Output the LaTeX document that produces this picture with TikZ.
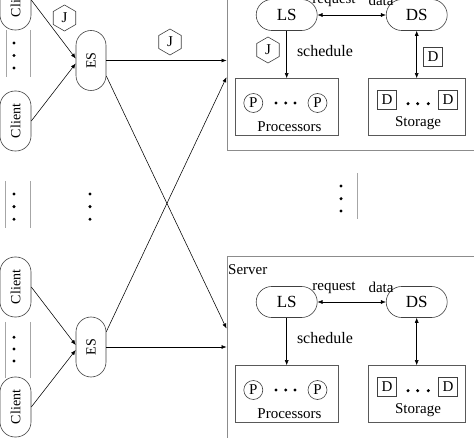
\documentclass[tikz,border=0pt]{standalone}
\usepackage{fontspec}
\setmainfont{Liberation Serif}
\usetikzlibrary{shapes.geometric,arrows.meta}

\tikzset{
  vpill/.style={draw=black!75, line width=0.6pt, rounded corners=15pt, minimum width=31pt, minimum height=60pt, inner sep=0pt, font=\fontsize{14}{16}\selectfont},
  hpill/.style={draw=black!75, line width=0.6pt, rounded corners=15.5pt, minimum width=61pt, minimum height=31pt, inner sep=0pt, font=\fontsize{17}{20}\selectfont},
  jtoken/.style={draw=black!75, line width=0.6pt, regular polygon, regular polygon sides=6, shape border rotate=90, minimum size=26pt, inner sep=0pt},
  dtoken/.style={draw=black!75, line width=0.6pt, minimum size=19pt, inner sep=0pt},
  ptoken/.style={draw=black!75, line width=0.6pt, circle, minimum size=19pt, inner sep=0pt},
  unitbox/.style={draw=black!65, line width=0.7pt, minimum height=57pt, inner sep=0pt},
  serverbox/.style={draw=black!45, line width=1pt, inner sep=0pt},
  conn/.style={line width=0.55pt, -{Latex[length=5pt,width=4pt]}},
  dconn/.style={line width=0.55pt, {Latex[length=5pt,width=4pt]}-{Latex[length=5pt,width=4pt]}},
  faint/.style={draw=black!35, line width=0.6pt},
}

\begin{document}
\begin{tikzpicture}[x=1pt, y=-1pt, font=\fontsize{15}{18}\selectfont]
\useasboundingbox (0,0) rectangle (474,438);
\clip (0,0) rectangle (474,438);

\node[serverbox, minimum width=263pt, minimum height=191pt] (srv1) at (358.5, 55.5) {};
\node[serverbox, minimum width=263pt, minimum height=223pt] (srv2) at (358.5, 368.5) {};
\node[anchor=west, inner sep=0pt] (srvlabel) at (228, 270) {Server};

\node[vpill] (cl1) at (15.5, 0) {\rotatebox{90}{Client}};
\node[vpill] (cl2) at (15.5, 121) {\rotatebox{90}{Client}};
\node[vpill] (cl3) at (15.5, 287) {\rotatebox{90}{Client}};
\node[vpill] (cl4) at (15.5, 407) {\rotatebox{90}{Client}};

\node[vpill, minimum width=30pt] (es1) at (91, 60.5) {\rotatebox{90}{ES}};
\node[vpill, minimum width=30pt] (es2) at (91, 347) {\rotatebox{90}{ES}};

\node[jtoken] (j1) at (64.5, 18) {J};
\node[jtoken] (j2) at (170, 42) {J};

\draw[conn] (cl1.east) -- ([yshift=2pt]es1.west);
\draw[conn] (cl2.east) -- ([yshift=-3pt]es1.west);
\draw[conn] (cl3.east) -- ([yshift=2pt]es2.west);
\draw[conn] (cl4.east) -- ([yshift=-3pt]es2.west);

\draw[conn] (es1.east) -- (es1.east -| srv1.west);
\draw[conn] (es2.east) -- (es2.east -| srv2.west);
\draw[conn] ([yshift=-15.5pt]es1.east) -- ([yshift=18.5pt]es2.east -| srv2.west);
\draw[conn] ([yshift=15.3pt]es2.east) -- ([yshift=-16.8pt]es1.east -| srv1.west);

% upper server
\node[hpill] (ls1) at (286.7, 15) {LS};
\node[hpill] (ds1) at (416.7, 15) {DS};
\node[unitbox, minimum width=103pt] (pr1) at (287.3, 107) {};
\node[unitbox, minimum width=97pt] (st1) at (417, 107) {};
\node[ptoken] (p11) at (253.3, 103) {P};
\node[ptoken] (p12) at (317.5, 103) {P};
\node[dtoken] (d11) at (387, 100) {D};
\node[dtoken] (d12) at (448, 100) {D};
\node (prlabel1) at (289.5, 127) {Processors};
\node (stlabel1) at (418, 123) {Storage};
\node[jtoken] (j3) at (268, 50) {J};
\node[dtoken] (d13) at (433, 56.7) {D};
\node (req1) at (334, 1) {request};
\node (dat1) at (381, 0) {data};
\node[font=\fontsize{16}{18}\selectfont] (sch1) at (325, 51) {schedule};

\draw[dconn] (ls1.east) -- (ds1.west);
\draw[conn] (ls1.south) -- (ls1.south |- pr1.north);
\draw[dconn] (ds1.south) -- (ds1.south |- st1.north);

% lower server
\node[hpill] (ls2) at (286.7, 302) {LS};
\node[hpill] (ds2) at (416.7, 302) {DS};
\node[unitbox, minimum width=103pt] (pr2) at (287.3, 394) {};
\node[unitbox, minimum width=97pt] (st2) at (417, 394) {};
\node[ptoken] (p21) at (253.3, 390) {P};
\node[ptoken] (p22) at (317.5, 390) {P};
\node[dtoken] (d21) at (387, 387) {D};
\node[dtoken] (d22) at (448, 387) {D};
\node (prlabel2) at (289.5, 414) {Processors};
\node (stlabel2) at (418, 410) {Storage};
\node (req2) at (334, 288) {request};
\node (dat2) at (381, 287) {data};
\node[font=\fontsize{16}{18}\selectfont] (sch2) at (325, 338) {schedule};

\draw[dconn] (ls2.east) -- (ds2.west);
\draw[conn] (ls2.south) -- (ls2.south |- pr2.north);
\draw[dconn] (ds2.south) -- (ds2.south |- st2.north);

% dots
\fill (276, 103) circle (1.7pt) (285.7, 103) circle (1.7pt) (295, 103) circle (1.7pt);
\fill (408, 103.7) circle (1.7pt) (417.7, 103.7) circle (1.7pt) (428.3, 103.7) circle (1.7pt);
\fill (276, 390) circle (1.7pt) (285.7, 390) circle (1.7pt) (295, 390) circle (1.7pt);
\fill (408, 390.7) circle (1.7pt) (417.7, 390.7) circle (1.7pt) (428.3, 390.7) circle (1.7pt);

\fill (14, 43) circle (1.7pt) (14, 55.5) circle (1.7pt) (14, 68) circle (1.7pt);
\draw[faint] (6, 30) -- (6, 77) (30, 30) -- (30, 77);
\fill (14, 194) circle (1.7pt) (14, 206.7) circle (1.7pt) (14, 219.3) circle (1.7pt);
\draw[faint] (5.7, 181) -- (5.7, 228) (30.7, 181) -- (30.7, 228);
\fill (90, 194) circle (1.7pt) (90, 206.7) circle (1.7pt) (90, 219.3) circle (1.7pt);
\fill (14, 337.3) circle (1.7pt) (14, 349) circle (1.7pt) (14, 361) circle (1.7pt);
\draw[faint] (5.7, 322) -- (5.7, 378) (30, 322) -- (30, 378);
\fill (341, 186) circle (1.7pt) (341, 198.7) circle (1.7pt) (341, 211) circle (1.7pt);
\draw[faint] (357.3, 173) -- (357.3, 219.3);

\end{tikzpicture}
\end{document}
